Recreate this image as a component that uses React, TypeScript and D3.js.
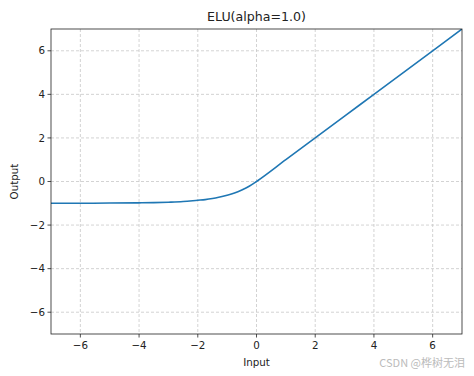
import React from "react";
import * as d3 from "d3";

const title = "ELU(alpha=1.0)";
const xLabel = "Input";
const yLabel = "Output";
const xTicks = [-6, -4, -2, 0, 2, 4, 6];
const yTicks = [-6, -4, -2, 0, 2, 4, 6];
const inputs = [-7, -6, -5, -4, -3.5, -3, -2.5, -2, -1.75, -1.5, -1.25, -1, -0.75, -0.5, -0.25, 0, 1, 2, 3, 4, 5, 6, 7];
const outputs = [-1.0, -1.0, -0.99, -0.98, -0.97, -0.95, -0.92, -0.86, -0.83, -0.78, -0.71, -0.63, -0.53, -0.39, -0.22, 0, 1, 2, 3, 4, 5, 6, 7];

export default function App() {
  const W = 474, H = 376;
  const L = 51, R = 462, T = 29, B = 334;
  const x = d3.scaleLinear().domain([-7, 7]).range([L, R]);
  const y = d3.scaleLinear().domain([-7, 7]).range([B, T]);
  const pts = inputs.map((v, i) => [v, outputs[i]] as [number, number]);
  const line = d3.line<[number, number]>().x(d => x(d[0])).y(d => y(d[1])).curve(d3.curveMonotoneX);
  const font = "DejaVu Sans, sans-serif";
  return (
    <svg width={W} height={H} style={{ position: "absolute", left: 0, top: 0, background: "#fff" }} fontFamily={font}>
      <defs>
        <clipPath id="clip"><rect x={L} y={T} width={R - L} height={B - T} /></clipPath>
      </defs>
      <rect x={0} y={0} width={W} height={H} fill="#fff" />
      {xTicks.map(t => (
        <line key={"gx" + t} x1={x(t)} x2={x(t)} y1={T} y2={B} stroke="#c8c8c8" strokeWidth={0.8} strokeDasharray="3,2" />
      ))}
      {yTicks.map(t => (
        <line key={"gy" + t} x1={L} x2={R} y1={y(t)} y2={y(t)} stroke="#c8c8c8" strokeWidth={0.8} strokeDasharray="3,2" />
      ))}
      <path d={line(pts) || ""} fill="none" stroke="#1f77b4" strokeWidth={1.6} clipPath="url(#clip)" />
      <rect x={L} y={T} width={R - L} height={B - T} fill="none" stroke="#222" strokeWidth={0.8} />
      {xTicks.map(t => (
        <g key={"tx" + t}>
          <line x1={x(t)} x2={x(t)} y1={B} y2={B + 3.5} stroke="#222" strokeWidth={0.8} />
          <text x={x(t)} y={B + 15} textAnchor="middle" fontSize={10.3} fill="#222">{t < 0 ? "\u2212" + Math.abs(t) : t}</text>
        </g>
      ))}
      {yTicks.map(t => (
        <g key={"ty" + t}>
          <line x1={L - 3.5} x2={L} y1={y(t)} y2={y(t)} stroke="#222" strokeWidth={0.8} />
          <text x={L - 6} y={y(t) + 3.7} textAnchor="end" fontSize={10.3} fill="#222">{t < 0 ? "\u2212" + Math.abs(t) : t}</text>
        </g>
      ))}
      <text x={(L + R) / 2} y={21} textAnchor="middle" fontSize={12.6} fill="#222">{title}</text>
      <text x={(L + R) / 2} y={366} textAnchor="middle" fontSize={10.3} fill="#222">{xLabel}</text>
      <text transform={`translate(18, ${(T + B) / 2}) rotate(-90)`} textAnchor="middle" fontSize={10.3} fill="#222">{yLabel}</text>
      <text x={465} y={367} textAnchor="end" fontSize={11} fill="#bbb" fontFamily="Noto Sans CJK SC, sans-serif">CSDN @桦树无泪</text>
    </svg>
  );
}
